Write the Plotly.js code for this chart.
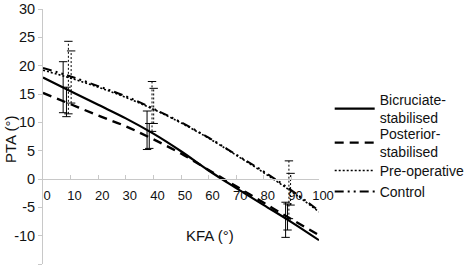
<!DOCTYPE html>
<html>
<head>
<meta charset="utf-8">
<script src="https://cdn.plot.ly/plotly-3.0.1.min.js"></script>
<style>html,body{margin:0;padding:0;background:#fff;}#chart{width:474px;height:269px;}</style>
</head>
<body>
<div id="chart"></div>
<script>
// Regression curves (KFA in degrees -> PTA in degrees)
var kfa = [0, 10, 20, 30, 40, 50, 60, 70, 80, 90, 100];
var bicruciate = [17.9, 15.5, 13.1, 10.7, 8.0, 4.9, 1.5, -1.6, -4.6, -7.6, -10.8];
var posterior  = [15.2, 13.2, 11.2, 9.3, 7.0, 4.5, 1.6, -1.3, -4.2, -7.1, -9.9];
var preop      = [19.2, 17.8, 16.2, 14.4, 12.3, 9.9, 7.2, 4.2, 1.1, -2.2, -5.8];
var control    = [19.6, 18.1, 16.4, 14.6, 12.4, 10.0, 7.3, 4.3, 1.3, -2.0, -5.6];

// Measured means with error bars (x, mean, sd)
var bicX = [7.3, 37.7, 87.9],  bicM = [16.2, 8.6, -7.2],  bicSD = [4.5, 3.4, 3.1];
var posX = [8.5, 38.5, 88.6],  posM = [13.6, 7.6, -6.7],  posSD = [2.6, 2.2, 2.3];
var preX = [9.2, 39.5, 89.1],  preM = [17.9, 12.8, -1.9], preSD = [6.4, 4.4, 5.1];
var conX = [10.2, 40.1, 89.7], conM = [18.0, 12.9, -1.8], conSD = [4.6, 3.1, 2.8];

var xTicks = [0, 10, 20, 30, 40, 50, 60, 70, 80, 90, 100];
var yTicks = [-15, -10, -5, 0, 5, 10, 15, 20, 25, 30];

var FONT = 'Liberation Sans, Arial, sans-serif';

function bars(xs, ms, sds, dash, name) {
  var x = [], y = [];
  for (var i = 0; i < xs.length; i++) {
    x.push(xs[i], xs[i], null);
    y.push(ms[i] - sds[i], ms[i] + sds[i], null);
  }
  return {
    x: x, y: y, type: 'scatter', mode: 'lines+markers', showlegend: false, name: name,
    line: {color: '#000', width: 1, dash: dash},
    marker: {symbol: 'line-ew-open', size: 6, color: '#000', line: {color: '#000', width: 1}},
    hoverinfo: 'skip', connectgaps: false
  };
}

var traces = [
  bars(bicX, bicM, bicSD, 'solid', 'Bicruciate bars'),
  bars(posX, posM, posSD, 'solid', 'Posterior bars'),
  bars(preX, preM, preSD, '2px,2px', 'Pre-op bars'),
  bars(conX, conM, conSD, '2px,2px', 'Control bars'),
  {x: kfa, y: bicruciate, type: 'scatter', mode: 'lines', name: 'Bicruciate-<br>stabilised',
   line: {color: '#000', width: 2.2, shape: 'spline'}, legend: 'legend'},
  {x: kfa, y: posterior, type: 'scatter', mode: 'lines', name: 'Posterior-<br>stabilised',
   line: {color: '#000', width: 2.4, dash: '9px,6px', shape: 'spline'}, legend: 'legend2'},
  {x: kfa, y: preop, type: 'scatter', mode: 'lines', name: 'Pre-operative',
   line: {color: '#000', width: 1.6, dash: '2px,2px', shape: 'spline'}, legend: 'legend3'},
  {x: kfa, y: control, type: 'scatter', mode: 'lines', name: 'Control',
   line: {color: '#000', width: 2, dash: '9px,4px,2px,4px,2px,4px', shape: 'spline'}, legend: 'legend4'}
];

function leg(y) {
  return {x: 1.035, xanchor: 'left', y: y, yanchor: 'middle', bgcolor: 'rgba(0,0,0,0)',
          borderwidth: 0, font: {family: FONT, size: 14, color: '#111'}, itemwidth: 40};
}

var layout = {
  width: 474, height: 269,
  margin: {l: 43, r: 154, t: 9, b: 5, pad: 0},
  paper_bgcolor: '#fff', plot_bgcolor: '#fff',
  font: {family: FONT, color: '#111'},
  showlegend: true,
  legend: leg(0.608), legend2: leg(0.475), legend3: leg(0.365), legend4: leg(0.283),
  xaxis: {
    range: [0, 100], anchor: 'free', position: 15 / 45,
    tickvals: xTicks, ticktext: xTicks.map(String),
    showline: true, linecolor: '#c8c8c8', linewidth: 1,
    ticks: 'inside', ticklen: 4, tickcolor: '#c8c8c8',
    showgrid: false, zeroline: false,
    tickfont: {family: FONT, size: 13, color: '#111'},
    ticklabelshift: 4, ticklabelstandoff: 4
  },
  yaxis: {
    range: [-15, 30],
    tickvals: yTicks, ticktext: yTicks.map(String),
    showline: true, linecolor: '#c8c8c8', linewidth: 1,
    ticks: 'outside', ticklen: 4, tickcolor: '#c8c8c8',
    showgrid: false, zeroline: false,
    tickfont: {family: FONT, size: 14.5, color: '#111'}
  },
  annotations: [
    {text: 'KFA (°)', xref: 'paper', yref: 'paper', x: 0.606, y: 0.112,
     xanchor: 'center', yanchor: 'middle', showarrow: false,
     font: {family: FONT, size: 15, color: '#111'}},
    {text: 'PTA (°)', xref: 'paper', yref: 'paper', x: -0.12, y: 0.49,
     xanchor: 'center', yanchor: 'middle', textangle: -90, showarrow: false,
     font: {family: FONT, size: 15, color: '#111'}}
  ]
};

Plotly.newPlot('chart', traces, layout, {displayModeBar: false, staticPlot: true});
</script>
</body>
</html>
